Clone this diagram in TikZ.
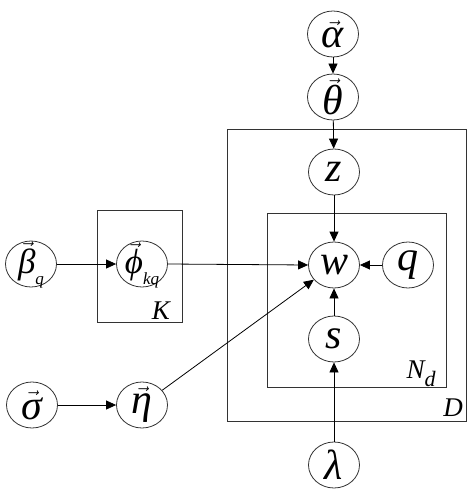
\documentclass[tikz,border=0pt]{standalone}
\usepackage{fontspec}
\setmainfont{Liberation Serif}
\usetikzlibrary{shapes.geometric,arrows.meta}
\newcommand\vecit[1]{\ensuremath{\vec{\mbox{#1}}}}
\newcommand\subit[1]{\raisebox{-0.3em}{\fontsize{22}{24}\selectfont #1}}
\newcommand\subsm[1]{\raisebox{-0.3em}{\fontsize{17}{19}\selectfont #1}}
\begin{document}
\begin{tikzpicture}[x=1pt,y=-1pt,
  var/.style={draw=black!80,line width=0.8pt,ellipse,minimum width=51pt,minimum height=46pt,inner sep=0pt},
  lbl/.style={inner sep=0pt,font=\fontsize{42}{46}\selectfont\itshape},
  lblsm/.style={inner sep=0pt,font=\fontsize{35}{38}\selectfont\itshape},
  plate/.style={draw=black!80,line width=0.9pt},
  platelabel/.style={inner sep=0pt,font=\fontsize{27}{30}\selectfont\itshape},
  edge/.style={draw=black,line width=0.8pt,-{Triangle[length=10pt,width=9pt]}}]
\useasboundingbox (0,0) rectangle (474,494);
% plates
\draw[plate] (227,129) rectangle (466,421);
\draw[plate] (267,213) rectangle (446,387);
\draw[plate] (97,210) rectangle (182,322);
\node[platelabel] (lK) at (161,311) {K};
\node[platelabel] (lN) at (421,374) {N\subit{d}};
\node[platelabel] (lD) at (453,408) {D};
% nodes
\node[var] (alpha) at (333,34) {};
\node[var] (theta) at (333,97) {};
\node[var] (z) at (334,172) {};
\node[var] (w) at (334,265) {};
\node[var] (q) at (408,265) {};
\node[var] (s) at (334,339) {};
\node[var] (lambda) at (334,465) {};
\node[var] (beta) at (31,264) {};
\node[var] (phi) at (142,264) {};
\node[var] (sigma) at (32,405) {};
\node[var] (eta) at (142,405) {};
% labels
\node[lbl] (talpha) at (alpha) {\vecit{α}};
\node[lbl] (ttheta) at (theta) {\vecit{θ}};
\node[lbl] (tz) at (z) {z};
\node[lbl] (tw) at (w) {w};
\node[lbl] (tq) at (q) {q};
\node[lbl] (ts) at (s) {s};
\node[lbl] (tlambda) at (lambda) {λ};
\node[lblsm] (tbeta) at ([yshift=-1pt]beta) {\vecit{β}\subsm{q}};
\node[lblsm] (tphi) at ([yshift=-1pt]phi) {\vecit{ϕ}\subsm{kq}};
\node[lbl] (tsigma) at (sigma) {\vecit{σ}};
\node[lbl] (teta) at (eta) {\vecit{η}};
% edges
\draw[edge] (alpha) -- (theta);
\draw[edge] (theta) -- (z);
\draw[edge] (z) -- (w);
\draw[edge] (q) -- (w);
\draw[edge] (s) -- (w);
\draw[edge] (lambda) -- (s);
\draw[edge] (beta) -- (phi);
\draw[edge] (sigma) -- (eta);
\draw[edge] (phi.east) -- (w.west);
\draw[edge] (eta) -- (w);
\end{tikzpicture}
\end{document}
